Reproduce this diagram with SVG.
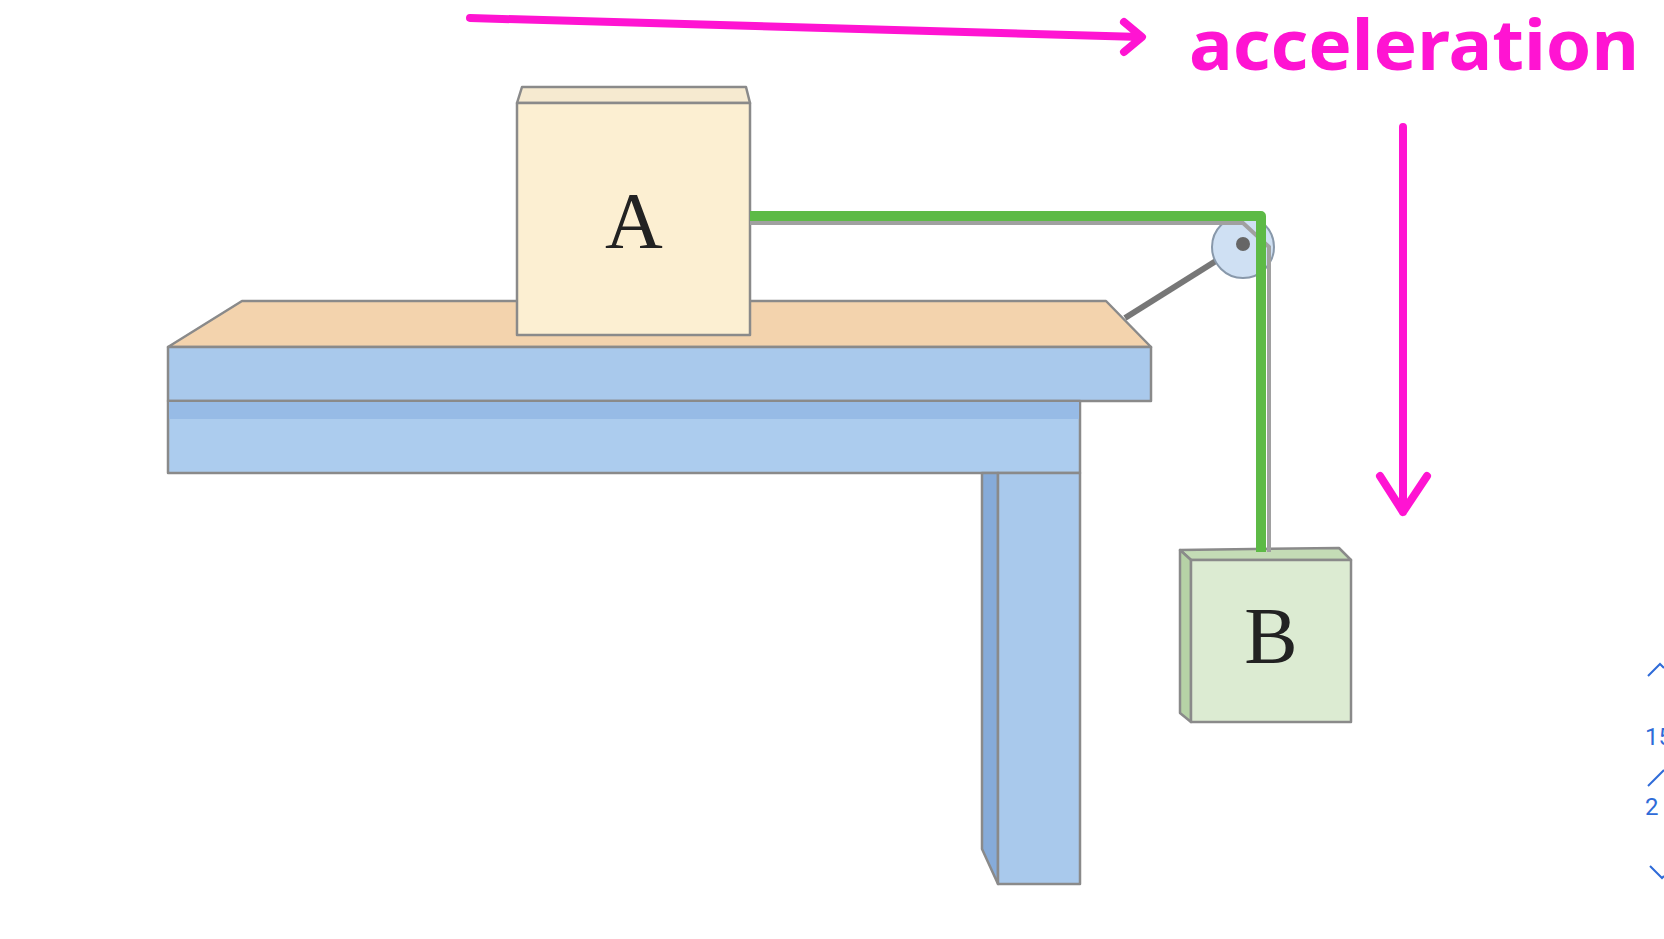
<svg xmlns="http://www.w3.org/2000/svg" width="1664" height="939" viewBox="0 0 1664 939">
<style>
.edge{stroke:#8a8a8a;stroke-width:2.5;stroke-linejoin:round}
.ink{stroke:#ff14d2;stroke-width:8;fill:none;stroke-linecap:round;stroke-linejoin:round}
.lbl{font-family:"Liberation Serif",serif;font-size:80px;fill:#222;text-anchor:middle}
.ui{font-family:"Roboto",sans-serif;font-size:24px;fill:#2f6bd8}
</style>
<rect width="1664" height="939" fill="#fff"/>
<g id="table">
<polygon class="edge" points="168,347 242,301 1106,301 1151,347" fill="#f3d3ad"/>
<rect class="edge" x="168" y="347" width="983" height="54" fill="#a9c9ec"/>
<rect class="edge" x="168" y="401" width="912" height="72" fill="#acccee"/>
<rect x="169" y="402" width="910" height="17" fill="#97bbe6"/>
<polygon class="edge" points="982,473 998,473 998,884 982,849" fill="#86abd9"/>
<rect class="edge" x="998" y="473" width="82" height="411" fill="#a9c9ec"/>
</g>
<g id="pulley">
<line x1="1125" y1="318" x2="1243" y2="244" stroke="#777" stroke-width="6"/>
<circle cx="1243" cy="247" r="31" fill="#cfe0f3" stroke="#8898aa" stroke-width="2"/>
<circle cx="1243" cy="244" r="7" fill="#666"/>
</g>
<g id="blockA">
<polygon class="edge" points="517,103 522,87 746,87 750,103" fill="#f6ead0"/>
<rect class="edge" x="517" y="103" width="233" height="232" fill="#fcefd2"/>
<text class="lbl" x="634" y="248">A</text>
</g>
<g id="blockB">
<polygon class="edge" points="1180,550 1191,560 1351,560 1339,548" fill="#c4dcb6"/>
<polygon class="edge" points="1180,550 1191,560 1191,722 1180,713" fill="#b6d2a6"/>
<rect class="edge" x="1191" y="560" width="160" height="162" fill="#dcebd2"/>
<text class="lbl" x="1271" y="663">B</text>
</g>
<g id="connectors">
<polyline points="750,223 1243,223 1269,247 1269,552" fill="none" stroke="#a0a0a0" stroke-width="4"/>
<polyline points="750,216 1261,216 1261,552" fill="none" stroke="#5dba46" stroke-width="10" stroke-linejoin="round"/>
<path class="ink" d="M470,18 L1141,37 M1124,22 L1142,37 L1124,52"/>
<path class="ink" d="M1403,127 L1403,512 M1380,476 L1403,512 L1427,476"/>
</g>
<text x="1189" y="70" font-family="Noto Sans, sans-serif" font-size="70" font-weight="bold" fill="#ff14d2" textLength="450" lengthAdjust="spacingAndGlyphs">acceleration</text>
<g id="ui">
<path d="M1648,676 L1660,664 L1664,668" fill="none" stroke="#2f6bd8" stroke-width="2"/>
<text class="ui" x="1645" y="745">15</text>
<path d="M1648,786 L1664,770" fill="none" stroke="#2f6bd8" stroke-width="2"/>
<text class="ui" x="1645" y="815">2</text>
<path d="M1650,866 L1662,878 L1664,876" fill="none" stroke="#2f6bd8" stroke-width="2"/>
</g>
</svg>
